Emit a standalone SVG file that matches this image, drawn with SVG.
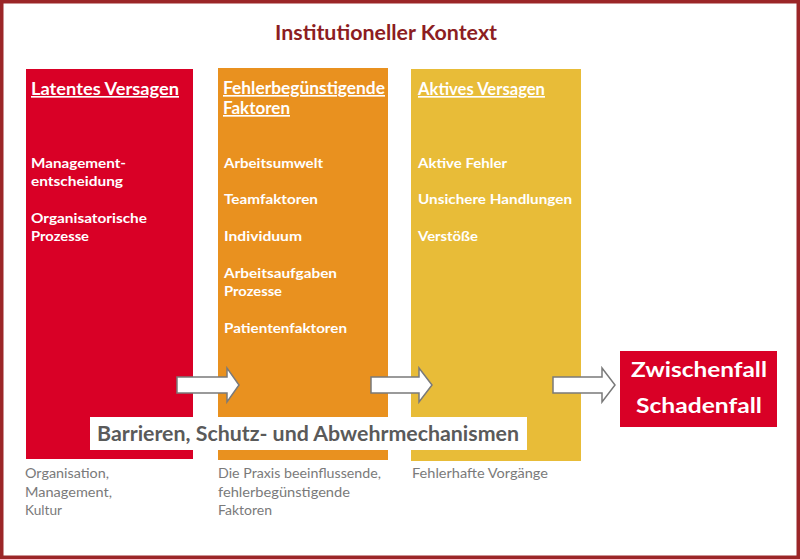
<svg xmlns="http://www.w3.org/2000/svg" width="800" height="559" viewBox="0 0 800 559">
<style>
text{font-family:Lato,"Open Sans","Liberation Sans",sans-serif;}
.hd{font-weight:bold;font-size:16.5px;fill:#fff;text-decoration:underline;}
.it{font-weight:bold;font-size:14px;fill:#fff;}
.cap{font-size:13.5px;fill:#7a7a7a;}
.arr{fill:#fff;stroke:#7a7a7a;stroke-width:1.5;stroke-linejoin:miter;}
</style>
<rect x="0" y="0" width="800" height="559" fill="#fff"/>
<rect x="1.75" y="1.75" width="796.5" height="555.5" fill="none" stroke="#9b2628" stroke-width="3.5"/>
<text id="title" x="275" y="40" font-size="20" font-weight="bold" fill="#8c1d22" textLength="222" lengthAdjust="spacingAndGlyphs">Institutioneller Kontext</text>

<g id="latent">
<rect x="26" y="69" width="167" height="390" fill="#d90026"/>
<text class="hd" x="31" y="95" textLength="148" lengthAdjust="spacingAndGlyphs">Latentes Versagen</text>
<text class="it" x="31" y="168" textLength="95" lengthAdjust="spacingAndGlyphs">Management-</text>
<text class="it" x="31" y="186" textLength="92" lengthAdjust="spacingAndGlyphs">entscheidung</text>
<text class="it" x="31" y="223" textLength="116" lengthAdjust="spacingAndGlyphs">Organisatorische</text>
<text class="it" x="31" y="241" textLength="58" lengthAdjust="spacingAndGlyphs">Prozesse</text>
<text class="cap" x="25" y="478" textLength="84" lengthAdjust="spacingAndGlyphs">Organisation,</text>
<text class="cap" x="25" y="497" textLength="87" lengthAdjust="spacingAndGlyphs">Management,</text>
<text class="cap" x="25" y="515" textLength="37" lengthAdjust="spacingAndGlyphs">Kultur</text>
</g>

<g id="faktoren">
<rect x="218" y="68" width="170" height="392" fill="#e9911f"/>
<text class="hd" x="223" y="94" textLength="162" lengthAdjust="spacingAndGlyphs">Fehlerbegünstigende</text>
<text class="hd" x="223" y="114" textLength="67" lengthAdjust="spacingAndGlyphs">Faktoren</text>
<text class="it" x="224" y="168" textLength="99" lengthAdjust="spacingAndGlyphs">Arbeitsumwelt</text>
<text class="it" x="224" y="204" textLength="94" lengthAdjust="spacingAndGlyphs">Teamfaktoren</text>
<text class="it" x="224" y="241" textLength="78" lengthAdjust="spacingAndGlyphs">Individuum</text>
<text class="it" x="224" y="278" textLength="113" lengthAdjust="spacingAndGlyphs">Arbeitsaufgaben</text>
<text class="it" x="224" y="296" textLength="58" lengthAdjust="spacingAndGlyphs">Prozesse</text>
<text class="it" x="224" y="333" textLength="123" lengthAdjust="spacingAndGlyphs">Patientenfaktoren</text>
<text class="cap" x="218" y="478" textLength="163" lengthAdjust="spacingAndGlyphs">Die Praxis beeinflussende,</text>
<text class="cap" x="218" y="497" textLength="132" lengthAdjust="spacingAndGlyphs">fehlerbegünstigende</text>
<text class="cap" x="218" y="515" textLength="54" lengthAdjust="spacingAndGlyphs">Faktoren</text>
</g>

<g id="aktiv">
<rect x="411" y="69" width="170" height="392" fill="#e8bc38"/>
<text class="hd" x="418" y="95" textLength="127" lengthAdjust="spacingAndGlyphs">Aktives Versagen</text>
<text class="it" x="418" y="168" textLength="89" lengthAdjust="spacingAndGlyphs">Aktive Fehler</text>
<text class="it" x="418" y="204" textLength="154" lengthAdjust="spacingAndGlyphs">Unsichere Handlungen</text>
<text class="it" x="418" y="241" textLength="60" lengthAdjust="spacingAndGlyphs">Verstöße</text>
<text class="cap" x="412" y="478" textLength="136" lengthAdjust="spacingAndGlyphs">Fehlerhafte Vorgänge</text>
</g>

<g id="barrieren">
<rect x="90" y="417" width="437" height="33" fill="#fff"/>
<text x="97" y="441" font-size="21" font-weight="bold" fill="#5a5a5a" textLength="422" lengthAdjust="spacingAndGlyphs">Barrieren, Schutz- und Abwehrmechanismen</text>
</g>

<g id="zwischenfall">
<rect x="620" y="351" width="157" height="76" fill="#d90026"/>
<text x="631" y="377" font-size="21" font-weight="bold" fill="#fff" textLength="136" lengthAdjust="spacingAndGlyphs">Zwischenfall</text>
<text x="636" y="413" font-size="21" font-weight="bold" fill="#fff" textLength="126" lengthAdjust="spacingAndGlyphs">Schadenfall</text>
</g>

<g id="connectors">
<polygon class="arr" points="177,377 227,377 227,368 239,385 227,402 227,393 177,393"/>
<polygon class="arr" points="371,377 419,377 419,368 432,385 419,402 419,393 371,393"/>
<polygon class="arr" points="553,377 602,377 602,368 615,385 602,402 602,393 553,393"/>
</g>
</svg>
